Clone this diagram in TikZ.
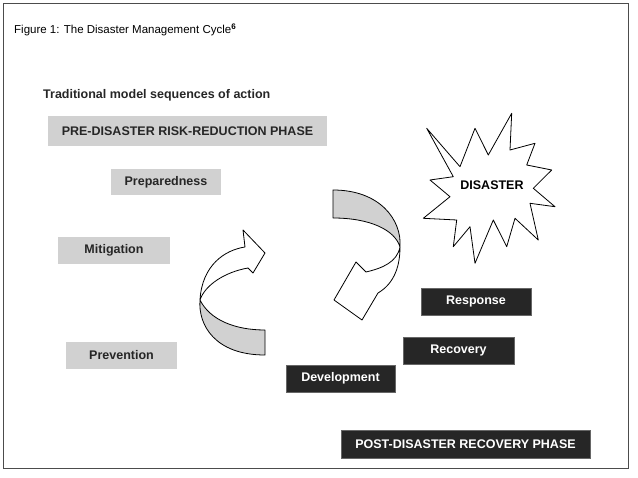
\documentclass[tikz,border=0pt]{standalone}
\usepackage{fontspec}
\setmainfont{Liberation Sans}
\begin{document}
\begin{tikzpicture}[x=1pt,y=-1pt,
  gbox/.style={fill=black!18,draw=none,inner sep=0,font=\bfseries\fontsize{12.5}{14}\selectfont,text=black!85},
  bbox/.style={fill=black!85,draw=black!60,inner sep=0,font=\bfseries\fontsize{12.5}{14}\selectfont,text=white},
  arr/.style={draw=black,line width=0.8pt,line join=round}]
\useasboundingbox (0,0) rectangle (638,478);
\draw[black!70,line width=0.8pt] (3,3) rectangle (628,468);
\node[anchor=west,inner sep=0,font=\fontsize{11.5}{13}\selectfont] (title) at (14,30) {Figure 1: The Disaster Management Cycle\textsuperscript{\bfseries 6}};
\node[anchor=west,inner sep=0,font=\bfseries\fontsize{12.5}{14}\selectfont,text=black!85] (trad) at (43,95) {Traditional model sequences of action};
\node[gbox,minimum width=279,minimum height=30] (pre) at (187.5,131) {PRE-DISASTER RISK-REDUCTION PHASE};
\node[gbox,minimum width=110,minimum height=26] (prep) at (166,182) {Preparedness};
\node[gbox,minimum width=112,minimum height=27] (mit) at (114,250.5) {Mitigation};
\node[gbox,minimum width=111,minimum height=27] (prev) at (121.5,355.5) {Prevention};
\node[bbox,minimum width=110,minimum height=27] (resp) at (476,301.5) {Response};
\node[bbox,minimum width=111,minimum height=27] (rec) at (458.5,350.5) {Recovery};
\node[bbox,minimum width=109,minimum height=27] (dev) at (340.5,378.5) {Development};
\node[bbox,minimum width=249,minimum height=28] (post) at (465.5,444) {POST-DISASTER RECOVERY PHASE};
% star
\draw[arr,fill=white] (426.7,128.3) -- (460,166.7) -- (475,128.3) -- (488.3,155) -- (511.7,113.3) -- (510,150) -- (535,143.3) -- (526.7,165) -- (551.7,170) -- (533.3,188.3) -- (555,206.7) -- (530,203.3) -- (538.3,240) -- (515,218.3) -- (506.7,246.7) -- (493.3,220) -- (475,263.3) -- (470,226.7) -- (453.3,246.7) -- (456.7,220) -- (423.3,218.3) -- (450,196.7) -- (430,180) -- (453.3,176.7) -- cycle;
\node[font=\bfseries\fontsize{12.5}{14}\selectfont] (dis) at (492,185) {DISASTER};
% right curved arrow
\draw[arr,fill=black!18] (333,190) .. controls (380,190) and (402,220) .. (400,247) .. controls (395,230) and (370,218) .. (333,218) -- cycle;
\draw[arr,fill=white] (400,247) .. controls (397,262) and (383,268) .. (366,272) -- (356,262) -- (334,300) -- (362,320) -- (378,293) .. controls (395,283) and (400,265) .. (400,247);
% left curved arrow
\draw[arr,fill=black!18] (265,355) .. controls (215,355) and (198,325) .. (200,300) .. controls (210,320) and (235,330) .. (265,330) -- cycle;
\draw[arr,fill=white] (200,300) .. controls (202,265) and (225,250) .. (245,247) -- (243,230) -- (265,253) -- (253,273) -- (248,268) .. controls (225,272) and (205,285) .. (200,300);
\end{tikzpicture}
\end{document}
